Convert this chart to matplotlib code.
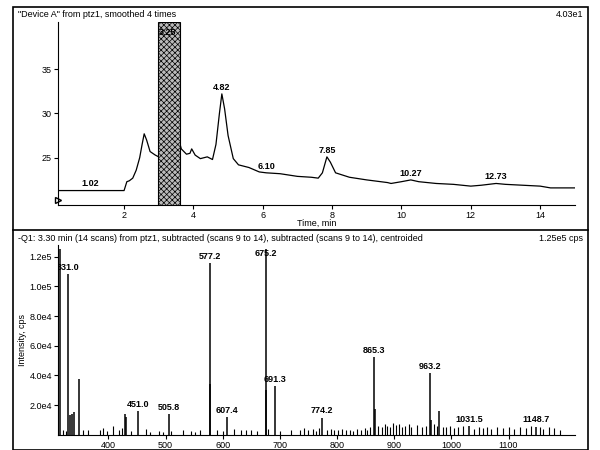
import matplotlib
matplotlib.use("Agg")
import matplotlib.pyplot as plt
from matplotlib.patches import Rectangle
from matplotlib.lines import Line2D

plt.rcParams['font.family'] = ['Liberation Sans', 'DejaVu Sans']
plt.rcParams['hatch.linewidth'] = 0.5

# chromatogram
time = [0.1, 1.02, 2.0, 2.08, 2.15, 2.25, 2.35, 2.45, 2.52, 2.58, 2.65, 2.75, 2.9, 3.0, 3.1, 3.18, 3.25,
        3.35, 3.45, 3.55, 3.65, 3.8, 3.9, 3.95, 4.05, 4.2, 4.4, 4.55, 4.65, 4.75, 4.82, 4.9, 5.0,
        5.15, 5.3, 5.6, 5.9, 6.1, 6.5, 7.0, 7.4, 7.6, 7.72, 7.85, 7.95, 8.1, 8.5, 9.0, 9.6, 9.7,
        10.0, 10.27, 10.5, 11.0, 11.5, 12.0, 12.3, 12.73, 13.0, 13.5, 14.0, 14.3, 15.0]
signal = [21.3, 21.3, 21.3, 22.3, 22.4, 22.7, 23.6, 25.0, 26.5, 27.7, 27.0, 25.7, 25.3, 25.1, 27.0, 33.0, 39.8,
          36.5, 31.0, 27.5, 26.0, 25.4, 25.5, 26.0, 25.3, 24.9, 25.1, 24.8, 26.5, 30.0, 32.2, 30.5, 27.5,
          24.9, 24.2, 23.9, 23.4, 23.3, 23.2, 22.9, 22.8, 22.7, 23.3, 25.1, 24.5, 23.3, 22.8, 22.5, 22.2, 22.1,
          22.3, 22.5, 22.3, 22.1, 22.0, 21.8, 21.9, 22.1, 22.0, 21.9, 21.8, 21.6, 21.6]
rt_labels = ["1.02", "3.25", "4.82", "6.10", "7.85", "10.27", "12.73"]
rt_pos = [1.02, 3.25, 4.82, 6.10, 7.85, 10.27, 12.73]
rt_y = [21.3, 38.4, 32.2, 23.3, 25.1, 22.5, 22.1]

# spectrum
mz_main = [316, 329, 332, 336, 340, 348, 428.8, 430, 451.0, 505.8, 577.2, 578.2, 607.4, 675.2, 676.2,
           691.3, 774.2, 865.3, 866.3, 963.2, 965, 979, 1031.5, 1148.7]
int_main = [125000, 108000, 13000, 14000, 15500, 37500, 14000, 12000, 16000, 14000, 115500, 34000, 12000,
            125000, 30000, 32500, 11500, 52500, 17000, 41500, 10000, 16000, 6000, 5500]
mz_small = [320, 325, 355, 365, 385, 390, 398, 408, 418, 423, 440, 466, 472, 488, 495, 510, 530, 545, 552,
            560, 590, 600, 620, 632, 640, 650, 660, 680, 700, 720, 735, 742, 750, 758, 763, 768, 782, 790,
            795, 802, 808, 815, 822, 828, 835, 842, 848, 853, 858, 872, 878, 883, 888, 893, 898, 903, 908,
            913, 918, 925, 930, 940, 948, 955, 970, 975, 985, 990, 998, 1005, 1012, 1020, 1040, 1048, 1055,
            1062, 1070, 1080, 1090, 1100, 1110, 1120, 1130, 1140, 1155, 1160, 1170, 1180, 1190]
int_small = [3000, 2500, 3000, 3500, 3000, 4500, 2500, 6000, 3000, 4500, 2500, 4000, 2000, 2500, 2000,
             2500, 3500, 2500, 2000, 3000, 3000, 2500, 4000, 3000, 3500, 3000, 2500, 4000, 2500, 3500,
             3000, 4500, 3000, 4000, 2500, 4500, 3000, 4000, 3500, 3000, 4000, 3000, 3500, 2500, 4000,
             3000, 4500, 3500, 5000, 6000, 5500, 7000, 6000, 5000, 8000, 6500, 7000, 5500, 6000, 7000,
             5000, 6500, 5000, 6000, 7000, 6000, 5500, 5000, 6000, 4500, 5000, 6000, 4000, 5000, 4500,
             5500, 4000, 5000, 4500, 5500, 4000, 5000, 4500, 6000, 5000, 4000, 5500, 4500, 3500]
mz_labels = ["331.0", "451.0", "505.8", "577.2", "607.4", "675.2", "691.3", "774.2", "865.3", "963.2",
             "1031.5", "1148.7"]
mz_lpos = [329, 451.0, 505.8, 577.2, 607.4, 675.2, 691.3, 774.2, 865.3, 963.2, 1031.5, 1148.7]
mz_ly = [108000, 16000, 14000, 115500, 12000, 117500, 32500, 11500, 52500, 41500, 6000, 5500]

fig = plt.figure(figsize=(6, 4.5), dpi=100)
fs = 6.5
tk = dict(labelsize=fs, length=3, width=0.8, pad=1.5)

# frame
fig.add_artist(Rectangle((0.022, 0.0), 0.958, 0.985, transform=fig.transFigure, fill=False, lw=1.2, color='black'))
fig.add_artist(Line2D([0.022, 0.98], [0.49, 0.49], transform=fig.transFigure, lw=1.2, color='black'))

ax1 = fig.add_axes([0.097, 0.545, 0.861, 0.406])
ax1.plot(time, signal, color='black', lw=0.9)
ax1.add_patch(Rectangle((2.98, 19.7), 0.64, 20.6, facecolor='#bbbbbb', edgecolor='black', hatch='xxxxxx', lw=0.8, zorder=3))
ax1.plot([0.1], [20.2], marker='>', color='black', mfc='white', ms=5, clip_on=False)
for l, x, y in zip(rt_labels, rt_pos, rt_y):
    ax1.text(x, y + 0.25, l, ha='center', va='bottom', fontsize=fs, fontweight='bold', zorder=4)
ax1.set_xlim(0.1, 15.0)
ax1.set_ylim(19.7, 40.3)
ax1.set_xticks([2, 4, 6, 8, 10, 12, 14])
ax1.set_yticks([25, 30, 35])
ax1.tick_params(**tk)
for s in ['top', 'right']:
    ax1.spines[s].set_visible(False)
ax1.set_xlabel("Time, min", fontsize=fs, labelpad=-1)
fig.text(0.03, 0.962, '"Device A" from ptz1, smoothed 4 times', fontsize=fs)
fig.text(0.972, 0.962, '4.03e1', fontsize=fs, ha='right')

ax2 = fig.add_axes([0.097, 0.034, 0.861, 0.422])
ax2.vlines(mz_small, 0, int_small, color='black', lw=0.8)
ax2.vlines(mz_main, 0, int_main, color='black', lw=1.1)
for l, x, y in zip(mz_labels, mz_lpos, mz_ly):
    ax2.text(x, y + 1500, l, ha='center', va='bottom', fontsize=fs, fontweight='bold', clip_on=True)
ax2.set_xlim(312, 1216)
ax2.set_ylim(0, 128000)
ax2.set_xticks([400, 500, 600, 700, 800, 900, 1000, 1100])
ax2.set_yticks([20000, 40000, 60000, 80000, 100000, 120000])
ax2.set_yticklabels(["2.0e4", "4.0e4", "6.0e4", "8.0e4", "1.0e5", "1.2e5"])
ax2.tick_params(**tk)
for s in ['top', 'right']:
    ax2.spines[s].set_visible(False)
ax2.set_ylabel("Intensity, cps", fontsize=fs, labelpad=2)
fig.text(0.03, 0.464, '-Q1: 3.30 min (14 scans) from ptz1, subtracted (scans 9 to 14), subtracted (scans 9 to 14), centroided', fontsize=fs)
fig.text(0.972, 0.464, '1.25e5 cps', fontsize=fs, ha='right')

fig.savefig("out.png", dpi=100)
